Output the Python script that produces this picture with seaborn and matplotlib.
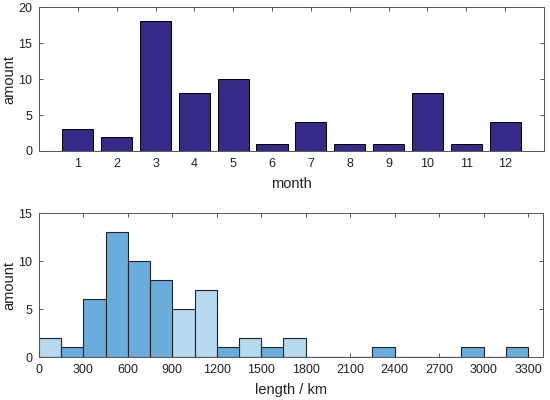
import matplotlib
matplotlib.use("Agg")
import matplotlib.pyplot as plt
import seaborn as sns
import pandas as pd
import numpy as np

months = [1, 2, 3, 4, 5, 6, 7, 8, 9, 10, 11, 12]
month_amount = [3, 2, 18, 8, 10, 1, 4, 1, 1, 8, 1, 4]

bin_edges = list(range(0, 3450, 150))
length_centers = [75, 225, 375, 525, 675, 825, 975, 1125, 1275, 1425, 1575, 1725, 2325, 2925, 3225]
length_amount = [2, 1, 6, 13, 10, 8, 5, 7, 1, 2, 1, 2, 1, 1, 1]
length_group = ["light", "dark", "dark", "dark", "dark", "dark", "light", "light",
                "dark", "light", "dark", "light", "dark", "dark", "dark"]

sns.set_theme(style="white")
plt.rcParams["font.family"] = ["Liberation Sans", "DejaVu Sans"]

fig = plt.figure(figsize=(5.5, 4), dpi=100)
ax1 = fig.add_axes([0.0709, 0.6225, 0.918, 0.36])
ax2 = fig.add_axes([0.0709, 0.1075, 0.916, 0.36])

df1 = pd.DataFrame({"month": months, "amount": month_amount})
sns.barplot(data=df1, x="month", y="amount", native_scale=True, color="#352a87",
            saturation=1, width=0.8, edgecolor="black", linewidth=0.7, ax=ax1)
ax1.set_xlim(0, 13)
ax1.set_ylim(0, 20)
ax1.set_xticks(months)
ax1.set_yticks([0, 5, 10, 15, 20])

df2 = pd.DataFrame({"length": length_centers, "amount": length_amount, "group": length_group})
sns.histplot(data=df2, x="length", weights="amount", hue="group", bins=bin_edges,
             hue_order=["dark", "light"], palette={"dark": "#6aaddd", "light": "#b8d8ef"},
             multiple="layer", alpha=1, edgecolor="#222222", linewidth=0.8,
             legend=False, ax=ax2)
ax2.set_xlim(0, 3400)
ax2.set_ylim(0, 15)
ax2.set_xticks(list(range(0, 3301, 300)))
ax2.set_yticks([0, 5, 10, 15])

ax1.set_xlabel("month", fontsize=10.5, labelpad=5)
ax1.set_ylabel("amount", fontsize=10.5)
ax2.set_xlabel("length / km", fontsize=10.5, labelpad=5)
ax2.set_ylabel("amount", fontsize=10.5)
ax1.yaxis.set_label_coords(-0.045, 0.5)
ax2.yaxis.set_label_coords(-0.045, 0.5)

for ax in (ax1, ax2):
    for s in ax.spines.values():
        s.set_visible(True)
        s.set_color("#555555")
        s.set_linewidth(0.7)
    ax.tick_params(direction="in", length=3, width=0.7, color="#555555",
                   labelsize=9, labelcolor="#222222", top=True, right=True,
                   bottom=True, left=True, pad=5)
    ax.xaxis.label.set_color("#222222")
    ax.yaxis.label.set_color("#222222")

fig.savefig("out.png", dpi=100)
